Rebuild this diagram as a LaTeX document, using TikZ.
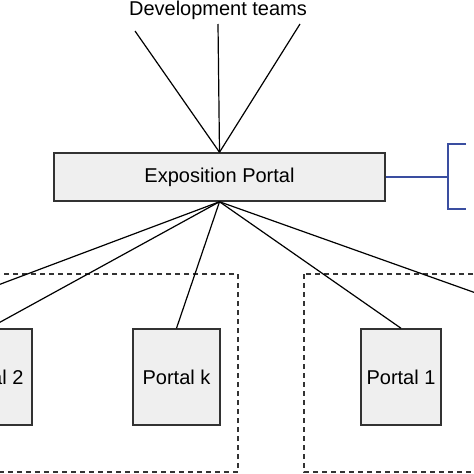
\documentclass[tikz,border=0pt]{standalone}
\usepackage{fontspec}
\setmainfont{Liberation Sans}
\definecolor{boxfill}{RGB}{239,239,239}
\definecolor{boxline}{RGB}{50,50,50}
\definecolor{bracketblue}{RGB}{58,78,160}
\begin{document}
\begin{tikzpicture}[x=1pt,y=-1pt,
  every node/.style={font=\fontsize{20}{24}\selectfont},
  portalbox/.style={draw=boxline,fill=boxfill,line width=1.5pt,minimum height=96pt,inner sep=0pt},
  wire/.style={draw=black,line width=1.2pt},
  group/.style={draw=black!80,dash pattern=on 5pt off 4pt,line width=1.2pt},
  bluewire/.style={draw=bracketblue,line width=1.5pt}]
\useasboundingbox (0,0) rectangle (474,474);
\clip (0,0) rectangle (474,474);
\fill[white] (0,0) rectangle (474,474);
% groups
\draw[group] (-100,274) rectangle (238,472);
\draw[group] (304,274) rectangle (600,472);
% nodes
\node[anchor=base,inner sep=0pt] (dev) at (218,15.5) {Development teams};
\node[portalbox,minimum width=331pt,minimum height=48pt] (exp) at (219.5,177) {Exposition Portal};
\node[portalbox,minimum width=86pt] (p2) at (-11,377) {Portal 2};
\node[portalbox,minimum width=87pt] (pk) at (176.5,377) {Portal k};
\node[portalbox,minimum width=80pt] (p1) at (401,377) {Portal 1};
% free ends
\coordinate (t1) at (135,31);
\coordinate (t2) at (218,24);
\coordinate (t3) at (300,24);
\coordinate (l1) at (-119,329);
\coordinate (r1) at (577,329);
\coordinate (bj) at (448,177);
\coordinate (bt) at (448,144);
\coordinate (bb) at (448,209);
\coordinate (btt) at (466,144);
\coordinate (bbt) at (466,209);
% connectors
\draw[wire] (t1) -- (exp.north);
\draw[wire] (t2) -- (exp.north);
\draw[wire] (t3) -- (exp.north);
\draw[wire] (exp.south) -- (l1);
\draw[wire] (exp.south) -- (p2.north);
\draw[wire] (exp.south) -- (pk.north);
\draw[wire] (exp.south) -- (p1.north);
\draw[wire] (exp.south) -- (r1);
\draw[bluewire] (exp.east) -- (bj);
\draw[bluewire] (btt) -- (bt) -- (bb) -- (bbt);
\end{tikzpicture}
\end{document}
